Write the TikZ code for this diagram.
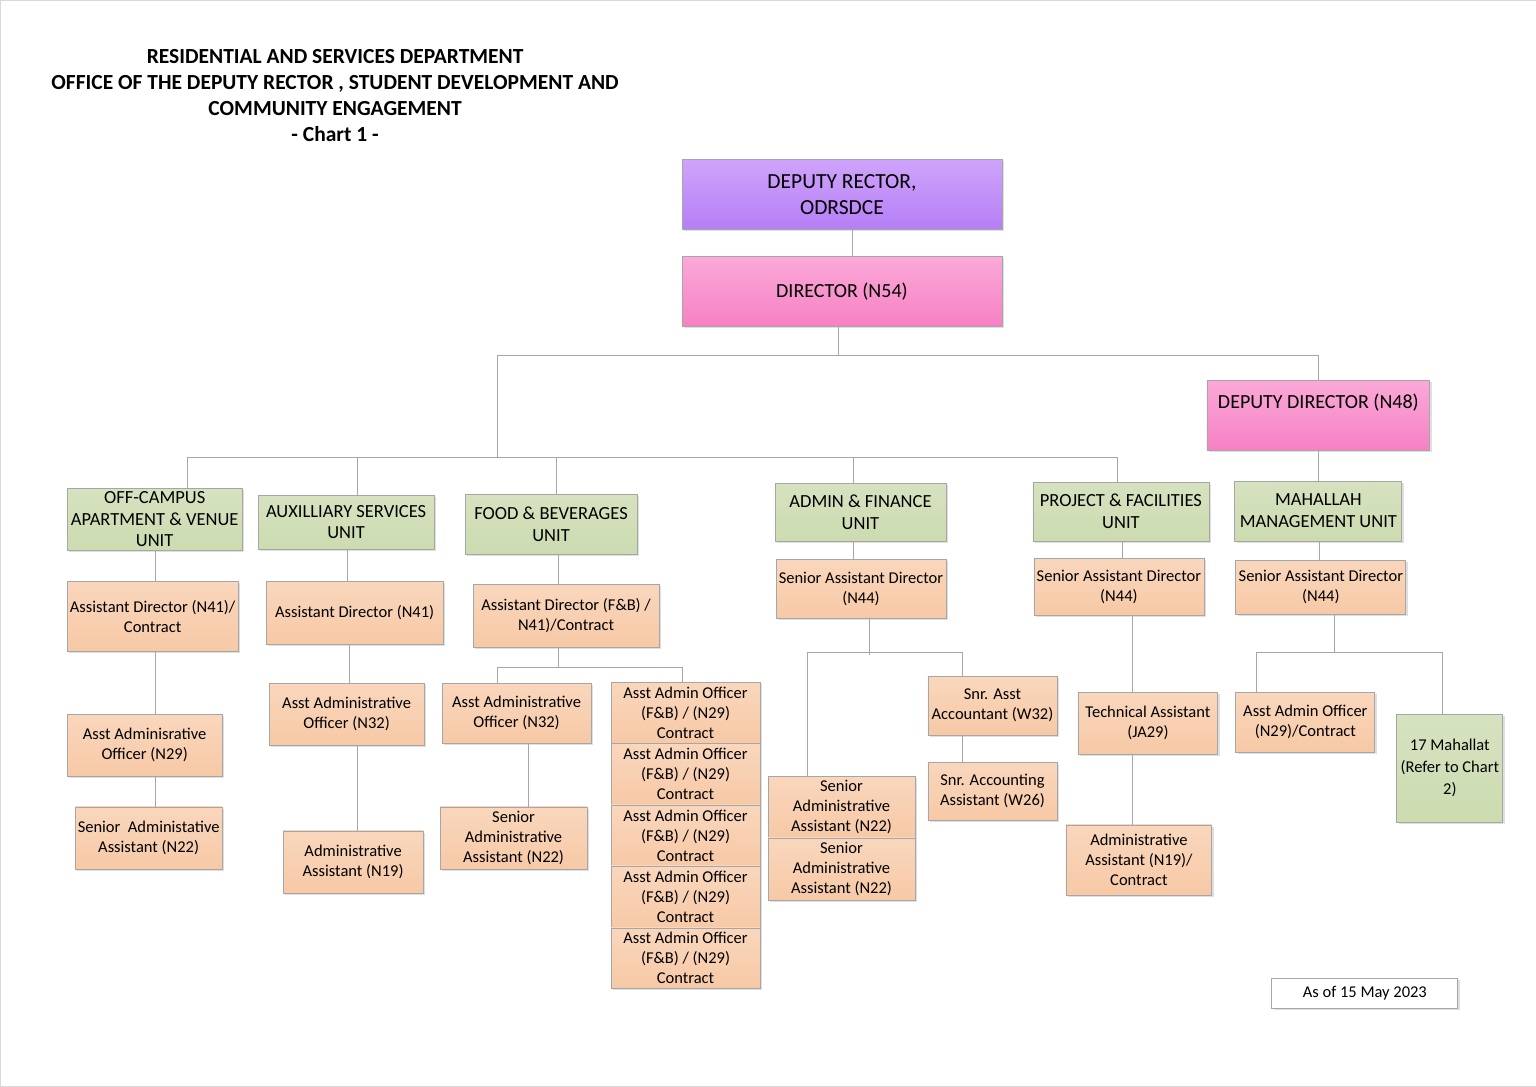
\documentclass[tikz,border=0pt]{standalone}
\usepackage{fontspec}
\setmainfont{Carlito}
\usetikzlibrary{shadows}
\definecolor{ln}{HTML}{A6A6A6}
\definecolor{grn}{HTML}{CCDBB0}
\definecolor{pch}{HTML}{F7C9A6}
\definecolor{pu1}{HTML}{CFA4FB}
\definecolor{pu2}{HTML}{B57EF6}
\definecolor{pk1}{HTML}{FBA9D8}
\definecolor{pk2}{HTML}{F681C4}
\tikzset{
 base/.style={draw=ln, line width=0.8pt, align=center, inner sep=0pt, font=\fontsize{16.5}{20}\selectfont,
   drop shadow={opacity=.25, shadow xshift=2pt, shadow yshift=-2pt}},
 purp/.style={base, top color=pu1, bottom color=pu2, font=\fontsize{21.5}{26}\selectfont},
 pink/.style={base, top color=pk1, bottom color=pk2, font=\fontsize{20}{24}\selectfont},
 unit/.style={base, top color=grn!80!white, bottom color=grn, font=\fontsize{18.5}{22}\selectfont},
 peach/.style={base, top color=pch!75!white, bottom color=pch},
 wht/.style={base, fill=white},
 con/.style={draw=ln, line width=0.8pt}
}
\newcommand\bx[7]{\node[#2, minimum width={(#5-#3)*1pt}, minimum height={(#6-#4)*1pt}] (#1) at ({(#3+#5)/2},{(#4+#6)/2}) {#7};}
\begin{document}
\begin{tikzpicture}[x=1pt,y=-1pt]
\draw[gray!30, fill=white] (0,0) rectangle (1536,1086);
\node[font=\bfseries\fontsize{21.5}{26}\selectfont, align=center, anchor=north] (title) at (335,46)
 {RESIDENTIAL AND SERVICES DEPARTMENT\\OFFICE OF THE DEPUTY RECTOR , STUDENT DEVELOPMENT AND\\COMMUNITY ENGAGEMENT\\- Chart 1 -};
\bx{DR}{purp}{682}{159}{1002}{229}{DEPUTY RECTOR,\\ODRSDCE}
\bx{DIR}{pink}{682}{256}{1002}{326}{DIRECTOR (N54)}
\bx{DD}{pink}{1207}{380}{1430}{450}{DEPUTY DIRECTOR (N48)\\[4pt]}
\bx{U1}{unit}{67}{488}{242}{550}{OFF-CAMPUS\\APARTMENT \& VENUE\\UNIT}
\bx{U2}{unit}{258}{495}{434}{549}{AUXILLIARY SERVICES\\UNIT}
\bx{U3}{unit}{465}{494}{637}{554}{FOOD \& BEVERAGES\\UNIT}
\bx{U4}{unit}{775}{483}{946}{541}{ADMIN \& FINANCE\\UNIT}
\bx{U5}{unit}{1033}{482}{1209}{541}{PROJECT \& FACILITIES\\UNIT}
\bx{U6}{unit}{1235}{481}{1402}{541}{MAHALLAH\\MANAGEMENT UNIT}
\bx{a1}{peach}{67}{581}{238}{651}{Assistant Director (N41)/\\Contract}
\bx{a2}{peach}{67}{714}{222}{776}{Asst Adminisrative\\Officer (N29)}
\bx{a3}{peach}{75}{807}{222}{869}{Senior\ \ Administative\\Assistant (N22)}
\bx{b1}{peach}{266}{581}{443}{644}{Assistant Director (N41)}
\bx{b2}{peach}{269}{683}{424}{745}{Asst Administrative\\Officer (N32)}
\bx{b3}{peach}{283}{831}{423}{893}{Administrative\\Assistant (N19)}
\bx{c1}{peach}{473}{584}{659}{647}{Assistant Director (F\&B) /\\N41)/Contract}
\bx{c2}{peach}{442}{683}{591}{743}{Asst Administrative\\Officer (N32)}
\bx{c3}{peach}{440}{807}{587}{869}{Senior\\Administrative\\Assistant (N22)}
\bx{c4}{peach}{611}{682}{760}{743}{Asst Admin Officer\\(F\&B) / (N29)\\Contract}
\bx{c5}{peach}{611}{743}{760}{805}{Asst Admin Officer\\(F\&B) / (N29)\\Contract}
\bx{c6}{peach}{611}{805}{760}{866}{Asst Admin Officer\\(F\&B) / (N29)\\Contract}
\bx{c7}{peach}{611}{866}{760}{928}{Asst Admin Officer\\(F\&B) / (N29)\\Contract}
\bx{c8}{peach}{611}{928}{760}{988}{Asst Admin Officer\\(F\&B) / (N29)\\Contract}
\bx{d1}{peach}{776}{559}{946}{618}{Senior Assistant Director\\(N44)}
\bx{d2}{peach}{768}{776}{915}{838}{Senior\\Administrative\\Assistant (N22)}
\bx{d3}{peach}{768}{838}{915}{900}{Senior\\Administrative\\Assistant (N22)}
\bx{d4}{peach}{928}{676}{1057}{735}{Snr. Asst\\Accountant (W32)}
\bx{d5}{peach}{928}{762}{1057}{820}{Snr. Accounting\\Assistant (W26)}
\bx{e1}{peach}{1034}{558}{1204}{615}{Senior Assistant Director\\(N44)}
\bx{e2}{peach}{1078}{692}{1218}{754}{Technical Assistant\\(JA29)}
\bx{e3}{peach}{1066}{825}{1212}{895}{Administrative\\Assistant (N19)/\\Contract}
\bx{f1}{peach}{1236}{560}{1406}{614}{Senior Assistant Director\\(N44)}
\bx{f2}{peach}{1236}{692}{1375}{752}{Asst Admin Officer\\(N29)/Contract}
\bx{f3}{unit}{1397}{714}{1503}{822}{\fontsize{16.5}{20}\selectfont 17 Mahallat\\\fontsize{16.5}{20}\selectfont (Refer to Chart\\\fontsize{16.5}{20}\selectfont 2)}
\bx{date}{wht}{1272}{978}{1458}{1008}{As of 15 May 2023}
% connectors
\draw[con] (DR.south -| 852,0) -- (DIR.north -| 852,0);
\coordinate (bus1) at (838,355);
\coordinate (bus2) at (497,457);
\draw[con] (DIR.south -| bus1) -- (bus1);
\draw[con] (bus2 |- bus1) -- (DD.north |- bus1) -- (DD.north);
\draw[con] (bus2 |- bus1) -- (bus2);
\draw[con] (187,457) -- (1117,457);
\draw[con] (187,457) -- (U1.north -| 187,0);
\draw[con] (357,457) -- (U2.north -| 357,0);
\draw[con] (556,457) -- (U3.north -| 556,0);
\draw[con] (853,457) -- (U4.north -| 853,0);
\draw[con] (1117,457) -- (U5.north -| 1117,0);
\draw[con] (DD.south -| 1319,0) -- (U6.north -| 1319,0);
\draw[con] (U1.south -| 155,0) -- (a1.north -| 155,0);
\draw[con] (a1.south -| 155,0) -- (a2.north -| 155,0);
\draw[con] (a2.south -| 155,0) -- (a3.north -| 155,0);
\draw[con] (U2.south -| 347,0) -- (b1.north -| 347,0);
\draw[con] (b1.south -| 349,0) -- (b2.north -| 349,0);
\draw[con] (b2.south -| 357,0) -- (b3.north -| 357,0);
\draw[con] (U3.south -| 558,0) -- (c1.north -| 558,0);
\draw[con] (c1.south -| 558,0) -- (558,667);
\draw[con] (c2.north -| 497,0) -- (497,667) -- (682,667) -- (c4.north -| 682,0);
\draw[con] (c2.south -| 528,0) -- (c3.north -| 528,0);
\draw[con] (U4.south -| 853,0) -- (d1.north -| 853,0);
\draw[con] (d1.south -| 869,0) -- (869,655);
\draw[con] (d2.north -| 807,0) -- (807,652) -- (962,652) -- (d4.north -| 962,0);
\draw[con] (d4.south -| 962,0) -- (d5.north -| 962,0);
\draw[con] (U5.south -| 1122,0) -- (e1.north -| 1122,0);
\draw[con] (e1.south -| 1132,0) -- (e2.north -| 1132,0);
\draw[con] (e2.south -| 1132,0) -- (e3.north -| 1132,0);
\draw[con] (U6.south -| 1320,0) -- (f1.north -| 1320,0);
\draw[con] (f1.south -| 1335,0) -- (1335,652);
\draw[con] (f2.north -| 1257,0) -- (1257,652) -- (1443,652) -- (f3.north -| 1443,0);
\end{tikzpicture}
\end{document}
